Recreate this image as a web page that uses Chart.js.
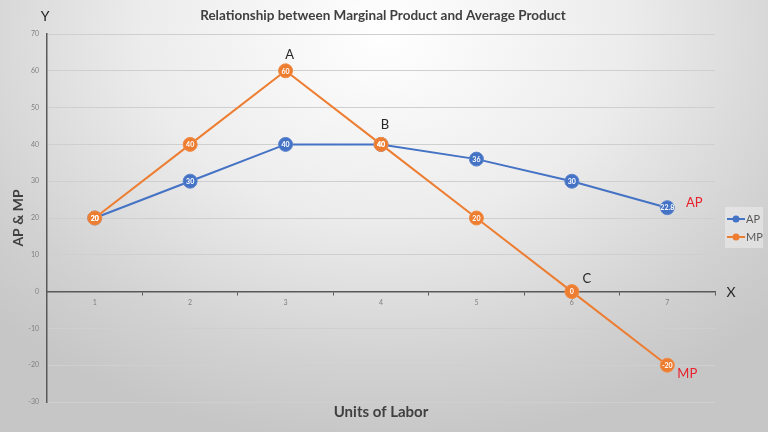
<!DOCTYPE html>
<html>
<head>
<meta charset="utf-8">
<script src="https://cdn.jsdelivr.net/npm/chart.js@4.4.1/dist/chart.umd.min.js"></script>
<style>
  html, body { margin: 0; padding: 0; }
  #wrap {
    width: 768px; height: 432px;
    background: radial-gradient(ellipse 70% 95% at 50% 8%, #ffffff 0%, #ececec 45%, #d2d2d2 80%, #c6c6c6 100%);
  }
</style>
</head>
<body>
<div id="wrap"><canvas id="lpChart" width="768" height="432"></canvas></div>
<script>
const units = ['1', '2', '3', '4', '5', '6', '7'];
const apValues = [20, 30, 40, 40, 36, 30, 22.8];
const mpValues = [20, 40, 60, 40, 20, 0, -20];

const blue = '#4472C4';
const orange = '#ED7D31';

// white value text inside each marker + the letters around the curves
const labelsPlugin = {
  id: 'labelsPlugin',
  afterDatasetsDraw(chart) {
    const ctx = chart.ctx;
    ctx.save();
    ctx.textAlign = 'center';
    ctx.textBaseline = 'middle';
    ctx.fillStyle = '#ffffff';
    ctx.font = 'bold 7px Lato';
    chart.data.datasets.forEach((ds, i) => {
      chart.getDatasetMeta(i).data.forEach((pt, j) => {
        ctx.fillText(String(ds.data[j]), pt.x, pt.y + 0.5);
      });
    });

    const x = chart.scales.x, y = chart.scales.y;
    ctx.font = '13px Lato';
    ctx.fillStyle = '#262626';
    ctx.fillText('A', x.getPixelForValue(2) + 4, y.getPixelForValue(60) - 16);
    ctx.fillText('B', x.getPixelForValue(3) + 4, y.getPixelForValue(40) - 20);
    ctx.fillText('C', x.getPixelForValue(5) + 15, y.getPixelForValue(0) - 13);
    ctx.font = '14px Lato';
    ctx.fillText('X', chart.chartArea.right + 16, y.getPixelForValue(0) + 1);
    ctx.fillText('Y', chart.chartArea.left - 2, 16);

    ctx.fillStyle = '#E8202C';
    ctx.font = '13px Lato';
    ctx.fillText('AP', x.getPixelForValue(6) + 27, y.getPixelForValue(22.8) - 5);
    ctx.fillText('MP', x.getPixelForValue(6) + 20, y.getPixelForValue(-20) + 9);

    // title
    ctx.fillStyle = '#404040';
    ctx.font = 'bold 13.5px Lato';
    ctx.fillText('Relationship between Marginal Product and Average Product', 383, 16);
    ctx.font = 'bold 15px Lato';
    ctx.fillText('Units of Labor', 381, 412);

    // legend
    ctx.fillStyle = 'rgba(255,255,255,0.35)';
    ctx.fillRect(725, 207, 38, 41);
    [[blue, 'AP', 219], [orange, 'MP', 237]].forEach(([c, t, ly]) => {
      ctx.strokeStyle = c;
      ctx.lineWidth = 2;
      ctx.beginPath();
      ctx.moveTo(727, ly);
      ctx.lineTo(745, ly);
      ctx.stroke();
      ctx.fillStyle = c;
      ctx.beginPath();
      ctx.arc(736, ly, 3.5, 0, Math.PI * 2);
      ctx.fill();
      ctx.fillStyle = '#595959';
      ctx.font = '11px Lato';
      ctx.textAlign = 'left';
      ctx.fillText(t, 746, ly);
      ctx.textAlign = 'center';
    });
    ctx.restore();
  }
};

const ctx = document.getElementById('lpChart').getContext('2d');
const lpChart = new Chart(ctx, {
  type: 'line',
  data: {
    labels: units,
    datasets: [{
      label: 'AP',
      data: apValues,
      order: 1,
      borderColor: blue,
      backgroundColor: blue,
      borderWidth: 2,
      pointRadius: 7,
      pointBorderColor: '#5b84cc',
      pointBorderWidth: 1,
      tension: 0
    }, {
      label: 'MP',
      data: mpValues,
      order: 0,
      borderColor: orange,
      backgroundColor: orange,
      borderWidth: 2,
      pointRadius: 7,
      pointBorderColor: '#f08c46',
      pointBorderWidth: 1,
      tension: 0
    }]
  },
  options: {
    responsive: false,
    animation: false,
    layout: { padding: { left: 0, right: 53, top: 34, bottom: 30 } },
    plugins: {
      legend: { display: false },
      tooltip: { enabled: false }
    },
    scales: {
      x: {
        position: { y: 0 },
        offset: true,
        grid: {
          offset: true,
          drawOnChartArea: false,
          tickLength: 3,
          color: '#595959'
        },
        border: { color: '#595959', width: 1.5 },
        ticks: { color: '#808080', font: { size: 7, family: 'Lato' }, padding: 4 }
      },
      y: {
        min: -30,
        max: 70,
        afterFit(scale) { scale.width = 47; },
        ticks: { stepSize: 10, color: '#808080', font: { size: 7, family: 'Lato' }, padding: 8 },
        grid: { color: '#cfcfcf', drawTicks: false },
        border: { color: '#595959', width: 1.5 },
        title: {
          display: true,
          text: 'AP & MP',
          color: '#404040',
          font: { size: 14, weight: 'bold', family: 'Lato' },
          padding: { top: 10, bottom: 0 }
        }
      }
    }
  },
  plugins: [labelsPlugin]
});
</script>
</body>
</html>
